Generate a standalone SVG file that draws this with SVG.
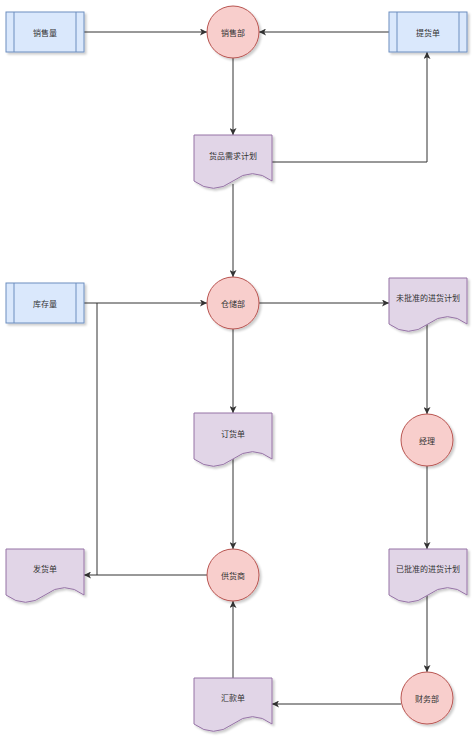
<svg xmlns="http://www.w3.org/2000/svg" width="474" height="739" viewBox="0 0 474 739">
<defs>
<style>
.proc{fill:#dae8fc;stroke:#6c8ebf;stroke-width:1}
.circ{fill:#f8cecc;stroke:#b85450;stroke-width:1}
.doc{fill:#e1d5e7;stroke:#9673a6;stroke-width:1}
.in{fill:none;stroke:#6c8ebf;stroke-width:1}
.edge{fill:none;stroke:#333333;stroke-width:1}
text{font-family:"Noto Sans CJK SC","Liberation Sans",sans-serif;font-size:8px;fill:#333333;text-anchor:middle;dominant-baseline:central}
</style>
<filter id="sh" x="-10%" y="-10%" width="130%" height="130%">
<feDropShadow dx="2" dy="2" stdDeviation="1" flood-color="#000" flood-opacity="0.2"/>
</filter>
<marker id="arr" viewBox="0 0 10 10" refX="10" refY="5" markerWidth="7" markerHeight="7" orient="auto" markerUnits="userSpaceOnUse">
<path d="M0,0 L10,5 L0,10 L2.5,5 Z" fill="#333333"/>
</marker>
<path id="docShape" d="M0,0 H78 V46 Q58.5,31.3 39,46 Q19.5,60.6 0,46 Z"/>
</defs>
<rect width="474" height="739" fill="#ffffff"/>
<g id="connectors">
<path class="edge" d="M84,32 H207" marker-end="url(#arr)"/>
<path class="edge" d="M389,32 H259" marker-end="url(#arr)"/>
<path class="edge" d="M233,58 V135" marker-end="url(#arr)"/>
<path class="edge" d="M272,162 H427 V52" marker-end="url(#arr)"/>
<path class="edge" d="M233,184 V277" marker-end="url(#arr)"/>
<path class="edge" d="M84,303 H207" marker-end="url(#arr)"/>
<path class="edge" d="M97,303 V575"/>
<path class="edge" d="M207,575 H84" marker-end="url(#arr)"/>
<path class="edge" d="M259,303 H389" marker-end="url(#arr)"/>
<path class="edge" d="M233,329 V413" marker-end="url(#arr)"/>
<path class="edge" d="M427,324 V414" marker-end="url(#arr)"/>
<path class="edge" d="M233,459 V549" marker-end="url(#arr)"/>
<path class="edge" d="M427,466 V549" marker-end="url(#arr)"/>
<path class="edge" d="M427,595 V672" marker-end="url(#arr)"/>
<path class="edge" d="M401,704 H272" marker-end="url(#arr)"/>
<path class="edge" d="M233,678 V601" marker-end="url(#arr)"/>
</g>
<g id="n_xiaoshouliang">
<rect class="proc" x="6" y="12" width="78" height="40" filter="url(#sh)"/>
<path class="in" d="M14,12 V52 M76,12 V52"/>
<text x="45" y="32">销售量</text>
</g>
<g id="n_tihuodan">
<rect class="proc" x="389" y="12" width="78" height="40" filter="url(#sh)"/>
<path class="in" d="M397,12 V52 M459,12 V52"/>
<text x="428" y="32">提货单</text>
</g>
<g id="n_xiaoshoubu">
<circle class="circ" cx="233" cy="32" r="26" filter="url(#sh)"/>
<text x="233" y="32">销售部</text>
</g>
<g id="n_huopinxuqiu">
<use href="#docShape" class="doc" x="194" y="135" filter="url(#sh)"/>
<text x="233" y="155">货品需求计划</text>
</g>
<g id="n_kucunliang">
<rect class="proc" x="6" y="283" width="78" height="40" filter="url(#sh)"/>
<path class="in" d="M14,283 V323 M76,283 V323"/>
<text x="45" y="303">库存量</text>
</g>
<g id="n_cangchubu">
<circle class="circ" cx="233" cy="303" r="26" filter="url(#sh)"/>
<text x="233" y="303">仓储部</text>
</g>
<g id="n_weipizhun">
<use href="#docShape" class="doc" x="389" y="278" filter="url(#sh)"/>
<text x="428" y="297">未批准的进货计划</text>
</g>
<g id="n_dinghuodan">
<use href="#docShape" class="doc" x="194" y="413" filter="url(#sh)"/>
<text x="233" y="433">订货单</text>
</g>
<g id="n_jingli">
<circle class="circ" cx="427" cy="440" r="26" filter="url(#sh)"/>
<text x="427" y="440">经理</text>
</g>
<g id="n_fahuodan">
<use href="#docShape" class="doc" x="6" y="549" filter="url(#sh)"/>
<text x="45" y="568">发货单</text>
</g>
<g id="n_gonghuoshang">
<circle class="circ" cx="233" cy="575" r="26" filter="url(#sh)"/>
<text x="233" y="575">供货商</text>
</g>
<g id="n_yipizhun">
<use href="#docShape" class="doc" x="389" y="549" filter="url(#sh)"/>
<text x="428" y="568">已批准的进货计划</text>
</g>
<g id="n_caiwubu">
<circle class="circ" cx="427" cy="698" r="26" filter="url(#sh)"/>
<text x="427" y="698">财务部</text>
</g>
<g id="n_huikuandan">
<use href="#docShape" class="doc" x="194" y="678" filter="url(#sh)"/>
<text x="233" y="697">汇款单</text>
</g>
</svg>
